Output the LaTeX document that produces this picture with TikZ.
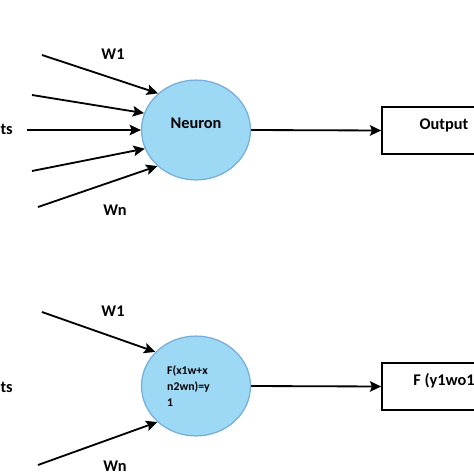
\documentclass[tikz,border=0pt]{standalone}
\usepackage{fontspec}
\setmainfont{Carlito}
\usetikzlibrary{arrows.meta,shapes.geometric}
\definecolor{cellfill}{HTML}{9DD9F5}
\definecolor{celledge}{HTML}{78AEDB}
\tikzset{
  cell/.style={ellipse, draw=celledge, fill=cellfill, line width=0.9pt,
    minimum width=77.5pt, minimum height=71pt, inner sep=0pt},
  outbox/.style={draw, line width=1.4pt, minimum width=88pt, minimum height=33pt,
    inner sep=0pt, font=\fontsize{11.6}{14}\selectfont\bfseries},
  lbl/.style={font=\fontsize{11.6}{14}\selectfont\bfseries},
  lift/.style={text height=7.5pt, text depth=9pt},
  wire/.style={->, line width=1.3pt}
}
\begin{document}
\begin{tikzpicture}[x=0.025cm, y=-0.025cm, >={Stealth[length=8pt,width=7.5pt,inset=1.5pt]}]
\clip (0,0) rectangle (474,474);
% oberes Neuron
\node[cell, lbl, lift] (cellA) at (196,130) {Neuron};
\node[outbox, lift] (outA) at (444,130.5) {Output};
\coordinate (inA1) at (42,55);
\coordinate (inA2) at (32,95);
\coordinate (inA3) at (27,130);
\coordinate (inA4) at (32,171);
\coordinate (inA5) at (38,207);
\draw[wire] (inA1) -- (cellA.136);
\draw[wire] (inA2) -- (cellA.162);
\draw[wire] (inA3) -- (cellA.180);
\draw[wire] (inA4) -- (cellA.200);
\draw[wire] (inA5) -- (cellA.223);
\draw[wire] (cellA.east) -- (outA.west);
\node[lbl] (wA1) at (113,54) {W1};
\node[lbl] (wAn) at (115,210) {Wn};
\node[lbl, anchor=east, inner sep=0pt] (inpA) at (13,130) {Inputs};
% unteres Neuron
\node[cell, align=left, text width=41pt,
  font=\fontsize{8.4}{11.4}\selectfont\bfseries] (cellB) at (196,386)
  {F(x1w+x\\n2wn)=y\\1};
\node[outbox, lift] (outB) at (444,386.5) {F (y1wo1};
\coordinate (inB1) at (42,312);
\coordinate (inB2) at (38,465);
\draw[wire] (inB1) -- (cellB.140);
\draw[wire] (inB2) -- (cellB.223);
\draw[wire] (cellB.east) -- (outB.west);
\node[lbl] (wB1) at (113,311) {W1};
\node[lbl] (wBn) at (115,466) {Wn};
\node[lbl, anchor=east, inner sep=0pt] (inpB) at (13,388) {Inputs};
\end{tikzpicture}
\end{document}
